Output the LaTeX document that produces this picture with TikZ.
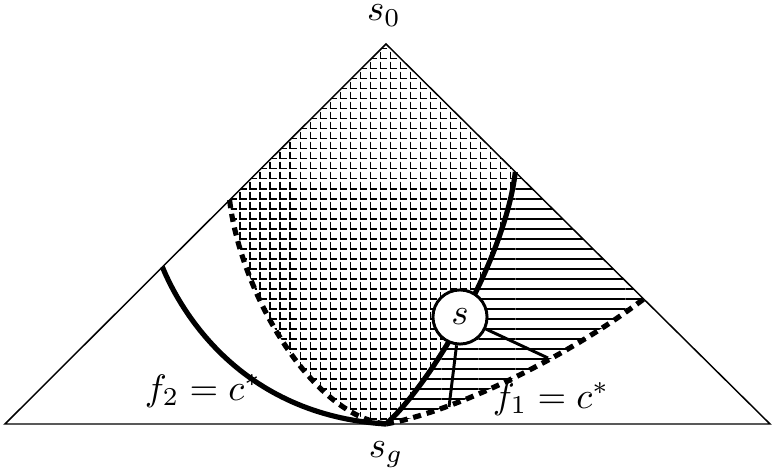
\documentclass[tikz,border=0pt]{standalone}
\usetikzlibrary{patterns}
% fill patterns of the two regions
\pgfdeclarepatternformonly{smallgrid}{\pgfqpoint{-0.3pt}{-0.3pt}}{\pgfqpoint{2.2pt}{2.2pt}}{\pgfqpoint{2.72pt}{2.72pt}}{%
  \pgfsetlinewidth{0.45pt}
  \pgfpathmoveto{\pgfqpoint{0pt}{1.9pt}}
  \pgfpathlineto{\pgfqpoint{0pt}{0pt}}
  \pgfpathlineto{\pgfqpoint{1.7pt}{0pt}}
  \pgfusepath{stroke}
}
\pgfdeclarepatternformonly{hlines}{\pgfqpoint{0pt}{-0.3pt}}{\pgfqpoint{10pt}{0.3pt}}{\pgfqpoint{10pt}{2.72pt}}{%
  \pgfsetlinewidth{0.45pt}
  \pgfpathmoveto{\pgfqpoint{0pt}{0pt}}
  \pgfpathlineto{\pgfqpoint{10pt}{0pt}}
  \pgfusepath{stroke}
}
\tikzset{%
  % styles for the lines
       side/.style = {line width=0.4pt},
      level/.style = {line width=1.4pt},
      bound/.style = {line width=1.4pt, dash pattern=on 2.2pt off 1.6pt},
       succ/.style = {line width=0.8pt},
  % style for the state node
      state/.style = {circle, draw, fill=white, line width=0.8pt,
                      minimum size=14.7pt, inner sep=0pt},
      label/.style = {anchor=base, inner sep=0.5pt}
}
\begin{document}
\begin{tikzpicture}[x=0.2717pt, y=-0.2717pt]
  \useasboundingbox (0,0) rectangle (773,469);

  \coordinate (left)  at (5,424);
  \coordinate (right) at (770,424);
  \coordinate (s0)    at (386,44);
  \coordinate (sg)    at (386,424);
  \coordinate (lcut)  at (229.6,200);
  \coordinate (rcut)  at (515.3,172);
  \coordinate (dcut)  at (643.7,299);
  \coordinate (fcut)  at (162.4,267);
  \coordinate (p1)    at (449,407);
  \coordinate (p2)    at (548,358);

  % hatched regions
  \fill[pattern=smallgrid] (sg) .. controls (310,415) and (240,290) .. (lcut)
        -- (s0) -- (rcut) .. controls (505,260) and (430,385) .. (sg) -- cycle;
  \fill[pattern=hlines] (sg) .. controls (430,385) and (505,260) .. (rcut)
        -- (dcut) .. controls (570,355) and (460,410) .. (sg) -- cycle;

  \draw[side] (left) -- (s0) -- (right) -- cycle;

  \draw[bound] (lcut) .. controls (240,290) and (310,415) .. (sg);
  \draw[bound] (sg) .. controls (460,410) and (570,355) .. (dcut);
  \draw[level] (fcut) .. controls (180,310) and (240,415) .. (sg);
  \draw[level] (sg) .. controls (430,385) and (505,260) .. (rcut);

  \node (s) [state] at (460,317) {$s$};
  \draw[succ] (s) -- (p1);
  \draw[succ] (s) -- (p2);

  \node (top)    [label] at (384,21)  {$s_0$};
  \node (bottom) [label] at (386,457) {$s_g$};
  \node (f2)     [label] at (203,400) {$f_2 = c^*$};
  \node (f1)     [label] at (551,408) {$f_1 = c^*$};
\end{tikzpicture}
\end{document}
